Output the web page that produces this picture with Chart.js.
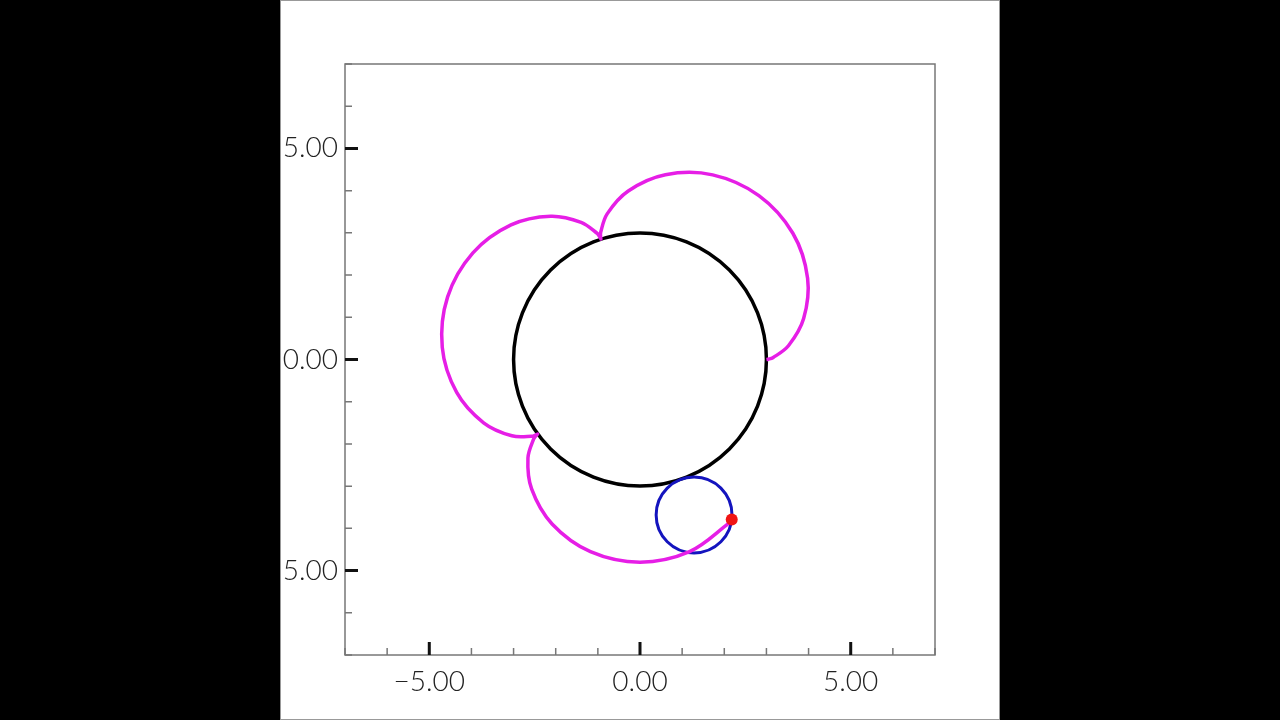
<!DOCTYPE html>
<html>
<head>
<meta charset="utf-8">
<script src="https://cdn.jsdelivr.net/npm/chart.js@4.4.1/dist/chart.umd.min.js"></script>
<style>
    html, body { margin: 0; padding: 0; background: #000; width: 1280px; height: 720px; overflow: hidden; }
    #panel { position: absolute; left: 280px; top: 0; width: 720px; height: 720px; background: #fff; outline: 1px solid #999; outline-offset: -1px; }
</style>
</head>
<body>
<div id="panel"><canvas id="chart" width="720" height="720"></canvas></div>
<script>
// axis ticks
const tickValues = [-7, -6, -5, -4, -3, -2, -1, 0, 1, 2, 3, 4, 5, 6, 7];
const majorTicks = [-5, 0, 5];
const tickLabels = ['\u22125.00', '0.00', '5.00'];

// big fixed circle and small rolling circle (centre x, centre y, radius)
const fixedCircle = [0, 0, 3];
const rollingCircle = [1.283, -3.683, 0.9];

// traced point (red dot)
const tracePoint = [2.177, -3.790];

// traced curve
const curveX = [3.000, 3.040, 3.153, 3.522, 3.883, 3.977, 3.627, 2.821, 1.724, 0.603, -0.279, -0.779, -0.933, -0.934, -0.927,
    -0.945, -1.016, -1.397, -2.122, -3.061, -3.965, -4.565, -4.692, -4.350, -3.711, -3.040, -2.576, -2.462, -2.427,
    -2.456, -2.525, -2.659, -2.572, -2.086, -1.176, 0.000, 1.176, 2.086, 2.177];
const curveY = [0.000, 0.006, 0.043, 0.325, 0.969, 1.926, 2.991, 3.883, 4.374, 4.378, 3.993, 3.450, 3.012, 2.893, 2.853,
    2.889, 2.985, 3.249, 3.394, 3.188, 2.525, 1.483, 0.288, -0.780, -1.499, -1.807, -1.818, -1.782, -1.763,
    -1.791, -1.888, -2.333, -3.067, -3.896, -4.552, -4.800, -4.552, -3.896, -3.790];

const curve = curveX.map((x, i) => ({ x: x, y: curveY[i] }));

// radius in data units -> pixels through the x scale
function unitsToPx(chart, r) {
    const s = chart.scales.x;
    return Math.abs(s.getPixelForValue(r) - s.getPixelForValue(0));
}

// tick marks drawn inside the frame, plus the frame itself
const insideTicks = {
    id: 'insideTicks',
    afterDraw(chart) {
        const { ctx, chartArea: a, scales: { x, y } } = chart;
        ctx.save();
        ctx.strokeStyle = '#777';
        ctx.lineWidth = 1.5;
        ctx.strokeRect(a.left, a.top, a.right - a.left, a.bottom - a.top);
        tickValues.forEach(v => {
            const major = majorTicks.includes(v);
            const len = major ? 13 : 7;
            const px = x.getPixelForValue(v);
            const py = y.getPixelForValue(v);
            ctx.strokeStyle = major ? '#111' : '#777';
            ctx.lineWidth = major ? 3 : 1.5;
            ctx.beginPath();
            ctx.moveTo(px, a.bottom);
            ctx.lineTo(px, a.bottom - len);
            ctx.moveTo(a.left, py);
            ctx.lineTo(a.left + len, py);
            ctx.stroke();
        });
        ctx.restore();
    }
};

function tickText(value) {
    const i = majorTicks.indexOf(value);
    return i >= 0 ? tickLabels[i] : '';
}

const labelFont = { family: 'Lato', size: 28, weight: '300' };

let chartCtx = document.getElementById('chart').getContext('2d');
let chart = new Chart(chartCtx, {
    type: 'scatter',
    data: {
        datasets: [{
            // red dot
            data: [{ x: tracePoint[0], y: tracePoint[1] }],
            pointRadius: 6,
            pointHoverRadius: 6,
            pointBackgroundColor: '#f01414',
            pointBorderWidth: 0
        }, {
            // magenta trace
            data: curve,
            showLine: true,
            tension: 0.35,
            borderColor: '#e61ee6',
            borderWidth: 3.5,
            pointRadius: 0,
            pointHoverRadius: 0
        }, {
            // rolling circle
            data: [{ x: rollingCircle[0], y: rollingCircle[1] }],
            pointRadius: c => unitsToPx(c.chart, rollingCircle[2]),
            pointHoverRadius: c => unitsToPx(c.chart, rollingCircle[2]),
            pointBackgroundColor: 'rgba(0,0,0,0)',
            pointBorderColor: '#1414be',
            pointBorderWidth: 3,
            pointHoverBorderWidth: 3
        }, {
            // fixed circle
            data: [{ x: fixedCircle[0], y: fixedCircle[1] }],
            pointRadius: c => unitsToPx(c.chart, fixedCircle[2]),
            pointHoverRadius: c => unitsToPx(c.chart, fixedCircle[2]),
            pointBackgroundColor: 'rgba(0,0,0,0)',
            pointBorderColor: '#000',
            pointBorderWidth: 3.5,
            pointHoverBorderWidth: 3.5
        }]
    },
    options: {
        responsive: false,
        animation: false,
        events: [],
        layout: { padding: { top: 64, right: 65, left: 0, bottom: 0 } },
        plugins: { legend: { display: false }, tooltip: { enabled: false } },
        scales: {
            x: {
                type: 'linear',
                min: -7,
                max: 7,
                afterFit: s => { s.height = 65; },
                grid: { display: false, drawTicks: false },
                border: { display: false },
                ticks: {
                    stepSize: 1,
                    autoSkip: false,
                    maxRotation: 0,
                    padding: 10,
                    color: '#222',
                    font: labelFont,
                    callback: tickText
                }
            },
            y: {
                type: 'linear',
                min: -7,
                max: 7,
                afterFit: s => { s.width = 65; },
                grid: { display: false, drawTicks: false },
                border: { display: false },
                ticks: {
                    stepSize: 1,
                    autoSkip: false,
                    padding: 7,
                    color: '#222',
                    font: labelFont,
                    callback: tickText
                }
            }
        }
    },
    plugins: [insideTicks]
});
</script>
</body>
</html>
